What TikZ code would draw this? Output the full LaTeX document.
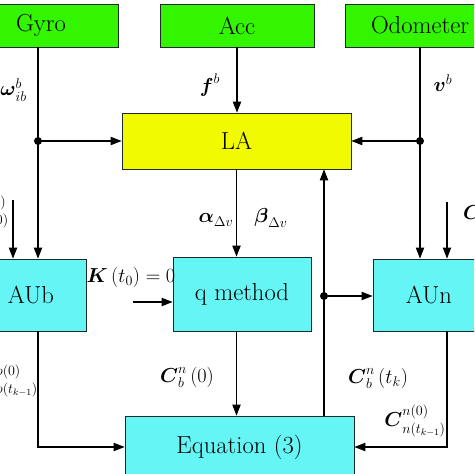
\documentclass[tikz,border=0pt]{standalone}
\usepackage{amsmath}
\usepackage{amssymb}
\usepackage{xcolor}
\usetikzlibrary{arrows.meta}
\definecolor{sensorcolor}{HTML}{33F500}
\definecolor{lacolor}{HTML}{F2FA00}
\definecolor{unitcolor}{HTML}{66F5F5}
\definecolor{edgecolor}{HTML}{1E2A2A}

\begin{document}
\begin{tikzpicture}[
    x=0.03cm, y=-0.03cm,
    block/.style={rectangle, draw=edgecolor, line width=0.7pt,
                  inner sep=1pt, font=\fontsize{21}{25}\selectfont},
    sensor/.style={block, fill=sensorcolor, minimum height=1.29cm},
    unit/.style={block, fill=unitcolor},
    flow/.style={line width=0.9pt, -{Triangle[length=3.3mm, width=2.5mm]}},
    lbl/.style={font=\fontsize{17}{20}\selectfont, inner sep=0pt},
    junction/.style={circle, fill=black, inner sep=0pt, minimum size=0.24cm}
]
\useasboundingbox (0,0) rectangle (474,474);
\clip (0,0) rectangle (474,474);
\fill[white] (0,0) rectangle (474,474);

\node[sensor, minimum width=4.62cm] (gyro) at (41,25.5) {Gyro};
\node[sensor, minimum width=4.62cm] (acc) at (237,25.5) {Acc};
\node[sensor, minimum width=4.5cm] (odo) at (420,25.5) {Odometer};
\node[block, fill=lacolor, minimum width=6.87cm, minimum height=1.68cm] (la) at (236.5,141) {LA};
\node[unit, minimum width=3.3cm, minimum height=2.16cm] (aub) at (31,295) {AUb};
\node[unit, minimum width=4.14cm, minimum height=2.22cm] (qm) at (242,294) {q method};
\node[unit, minimum width=3.36cm, minimum height=2.16cm] (aun) at (429,295) {AUn};
\node[unit, minimum width=6.87cm, minimum height=1.86cm] (eq) at (239.5,447) {Equation (3)};

\coordinate (gx) at (38,0);
\coordinate (bin) at (13,200);
\coordinate (nin) at (447,202);
\coordinate (kin) at (133,302);
\coordinate (fb) at (324,296);

% sensors
\draw[flow] (gx |- gyro.south) -- (gx |- aub.north);
\draw[flow] (gx |- la.west) -- (la.west);
\node[junction] (jg) at (gx |- la.west) {};
\draw[flow] (acc.south) -- (acc.south |- la.north);
\draw[flow] (odo.south) -- (odo.south |- aun.north);
\draw[flow] (odo.south |- la.east) -- (la.east);
\node[junction] (jo) at (odo.south |- la.east) {};

% middle
\draw[flow] (la.south) -- (la.south |- qm.north);
\draw[flow] (bin) -- (bin |- aub.north);
\draw[flow] (nin) -- (nin |- aun.north);
\draw[flow] (kin) -- (kin -| qm.west);
\draw[flow] (fb |- eq.north) -- (fb |- la.south);
\draw[flow] (fb) -- (fb -| aun.west);
\node[junction] (jf) at (fb) {};

% to equation
\draw[flow] (la.south |- qm.south) -- (la.south |- eq.north);
\draw[flow] (gx |- aub.south) |- (eq.west);
\draw[flow] (nin |- aun.south) |- (eq.east);

% labels
\node[lbl, anchor=east] (wlbl) at (27,90) {$\boldsymbol{\omega}^{b}_{ib}$};
\node[lbl] (flbl) at (210,85) {$\boldsymbol{f}^{b}$};
\node[lbl] (vlbl) at (443,83) {$\boldsymbol{v}^{b}$};
\node[lbl] (albl) at (216,220) {$\boldsymbol{\alpha}_{\Delta v}$};
\node[lbl] (blbl) at (271,218) {$\boldsymbol{\beta}_{\Delta v}$};
\node[lbl, anchor=east] (k0lbl) at (9,212) {$\boldsymbol{C}^{b(0)}_{n(0)}$};
\node[lbl, anchor=west] (cnlbl) at (463,215) {$\boldsymbol{C}^{n}_{e}$};
\node[lbl] (klbl) at (131,277) {$\boldsymbol{K}\left(t_0\right)=0$};
\node[lbl] (c0lbl) at (187,377) {$\boldsymbol{C}^{n}_{b}\left(0\right)$};
\node[lbl] (ctlbl) at (378,378) {$\boldsymbol{C}^{n}_{b}\left(t_k\right)$};
\node[lbl, anchor=east] (cblbl) at (38,381) {$\boldsymbol{C}^{b(0)}_{b(t_{k-1})}$};
\node[lbl] (cnnlbl) at (415,421) {$\boldsymbol{C}^{n(0)}_{n(t_{k-1})}$};
\end{tikzpicture}
\end{document}
